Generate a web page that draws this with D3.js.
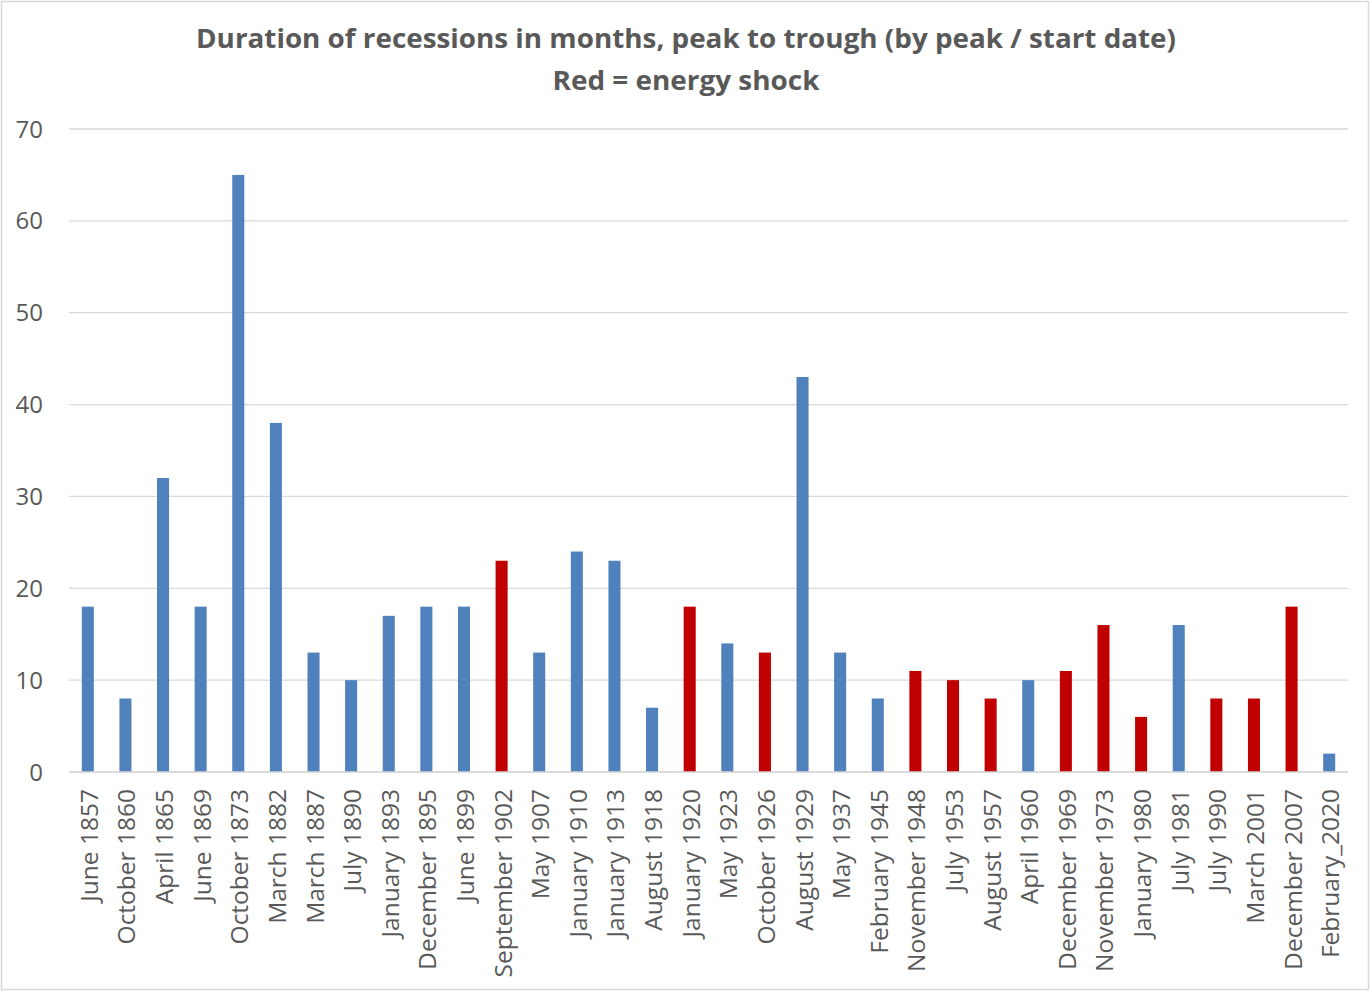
<!DOCTYPE html>
<html>
<head>
<meta charset="utf-8">
<script src="https://cdn.jsdelivr.net/npm/d3@7"></script>
<style>
  body { margin: 0; background: #fff; }
  text { font-family: "Open Sans", "DejaVu Sans", sans-serif; fill: #595959; }
</style>
</head>
<body>
<div id="chart"></div>
<script>
// recession peak dates
const peaks = ["June 1857", "October 1860", "April 1865", "June 1869", "October 1873",
  "March 1882", "March 1887", "July 1890", "January 1893", "December 1895", "June 1899",
  "September 1902", "May 1907", "January 1910", "January 1913", "August 1918",
  "January 1920", "May 1923", "October 1926", "August 1929", "May 1937", "February 1945",
  "November 1948", "July 1953", "August 1957", "April 1960", "December 1969",
  "November 1973", "January 1980", "July 1981", "July 1990", "March 2001",
  "December 2007", "February_2020"];
// months, peak to trough
const months = [18, 8, 32, 18, 65, 38, 13, 10, 17, 18, 18, 23, 13, 24, 23, 7, 18, 14, 13,
  43, 13, 8, 11, 10, 8, 10, 11, 16, 6, 16, 8, 8, 18, 2];
// energy shock flag
const energyShock = [0, 0, 0, 0, 0, 0, 0, 0, 0, 0, 0, 1, 0, 0, 0, 0, 1, 0, 1,
  0, 0, 0, 1, 1, 1, 0, 1, 1, 1, 0, 1, 1, 1, 0];
const yTicks = [0, 10, 20, 30, 40, 50, 60, 70];

const data = peaks.map((p, i) => ({ peak: p, value: months[i], red: energyShock[i] === 1 }));

const svgWidth = 1372;
const svgHeight = 994;
const svg = d3.select("#chart").append("svg")
  .attr("width", svgWidth)
  .attr("height", svgHeight);

// chart border
svg.append("rect")
  .attr("x", 1.5).attr("y", 1.5)
  .attr("width", svgWidth - 5).attr("height", svgHeight - 6)
  .attr("fill", "#fff").attr("stroke", "#d9d9d9").attr("stroke-width", 1.5);

const plotLeft = 69, plotRight = 1348, plotTop = 129, plotBottom = 772;

const xScale = d3.scaleBand()
  .domain(peaks)
  .range([plotLeft, plotRight])
  .paddingInner(0.68)
  .paddingOuter(0.34);
const yScale = d3.scaleLinear().domain([0, 70]).range([plotBottom, plotTop]);

// gridlines
svg.append("g")
  .selectAll("line")
  .data(yTicks)
  .enter()
  .append("line")
  .attr("x1", plotLeft).attr("x2", plotRight)
  .attr("y1", (d) => yScale(d)).attr("y2", (d) => yScale(d))
  .attr("stroke", "#d9d9d9").attr("stroke-width", 1.3);

// y labels
svg.append("g")
  .selectAll("text")
  .data(yTicks)
  .enter()
  .append("text")
  .attr("x", 43)
  .attr("y", (d) => yScale(d) + 8.5)
  .attr("text-anchor", "end")
  .style("font-size", "24px")
  .text((d) => d);

// bars
svg.append("g")
  .selectAll("rect")
  .data(data)
  .enter()
  .append("rect")
  .attr("x", (d) => xScale(d.peak))
  .attr("y", (d) => yScale(d.value))
  .attr("width", xScale.bandwidth())
  .attr("height", (d) => yScale(0) - yScale(d.value))
  .attr("fill", (d) => (d.red ? "#c00000" : "#4f81bd"));

// baseline
svg.append("line")
  .attr("x1", plotLeft).attr("x2", plotRight)
  .attr("y1", plotBottom).attr("y2", plotBottom)
  .attr("stroke", "#d9d9d9").attr("stroke-width", 1.5);

// x labels, rotated
svg.append("g")
  .selectAll("text")
  .data(data)
  .enter()
  .append("text")
  .attr("transform", (d) => {
    const cx = xScale(d.peak) + xScale.bandwidth() / 2 + 10;
    return `translate(${cx},${plotBottom + 17}) rotate(-90)`;
  })
  .attr("text-anchor", "end")
  .style("font-size", "24.5px")
  .text((d) => d.peak);

// title
svg.append("text")
  .attr("x", 686).attr("y", 48)
  .attr("text-anchor", "middle")
  .attr("textLength", 980).attr("lengthAdjust", "spacingAndGlyphs")
  .style("font-size", "27px").style("font-weight", "bold")
  .text("Duration of recessions in months, peak to trough (by peak / start date)");
svg.append("text")
  .attr("x", 686).attr("y", 90)
  .attr("text-anchor", "middle")
  .attr("textLength", 267).attr("lengthAdjust", "spacingAndGlyphs")
  .style("font-size", "27px").style("font-weight", "bold")
  .text("Red = energy shock");
</script>
</body>
</html>
